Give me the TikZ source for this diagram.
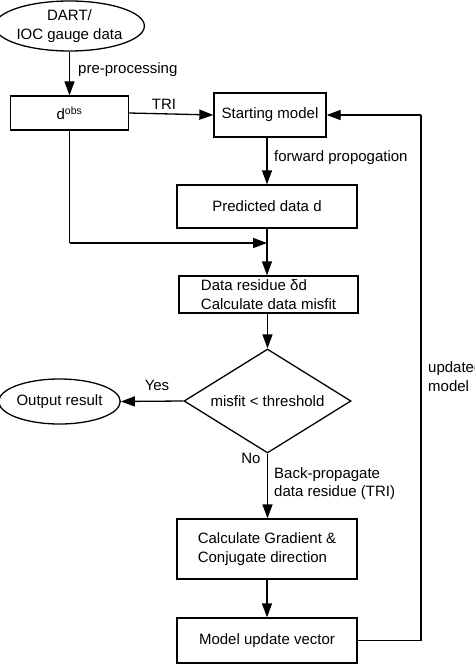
\documentclass[tikz,border=0pt]{standalone}
\usepackage{fontspec}
\setmainfont{Liberation Sans}
\usetikzlibrary{shapes.geometric,arrows.meta}
\begin{document}
\begin{tikzpicture}[x=1pt,y=-1pt,
  every node/.style={font=\fontsize{15}{18.5}\selectfont, inner sep=0pt},
  box/.style={draw, rectangle, line width=1.3pt},
  oval/.style={draw, ellipse, line width=1.3pt},
  line/.style={line width=1.3pt},
  arr/.style={line width=1.3pt, -{Triangle[length=14pt,width=10pt]}}]
\useasboundingbox (0,0) rectangle (474,666);
% nodes
\node[oval, minimum width=127, minimum height=50, align=center] (dart) at (69.5,26) {DART/\\IOC gauge data};
\node[box, minimum width=118, minimum height=34] (dobs) at (69.5,113) {d\textsuperscript{obs}};
\node[box, minimum width=112, minimum height=44] (start) at (270,115) {Starting model};
\node[box, minimum width=180, minimum height=43] (pred) at (267,206.5) {Predicted data d};
\node[box, minimum width=179, minimum height=37, align=left] (resid) at (268.5,294.5) {Data residue δd\\Calculate data misfit};
\node[draw, diamond, aspect=1.6, line width=1.3pt, minimum width=167, minimum height=104] (dec) at (267.5,401) {misfit < threshold};
\node[oval, minimum width=115, minimum height=45] (out) at (59.5,401.5) {Output result};
\node[box, minimum width=180, minimum height=60, align=left] (calc) at (267,549) {Calculate Gradient \&\\Conjugate direction};
\node[box, minimum width=180, minimum height=45] (upd) at (267,640.5) {Model update vector};
\coordinate (j) at (267,243);
\coordinate (rt) at (421,640.5);
\coordinate (rtop) at (421,115);
% labels
\node[anchor=west] (lpre) at (78,70) {pre-processing};
\node (ltri) at (164,104) {TRI};
\node[anchor=west] (lfwd) at (274,158) {forward propogation};
\node (lyes) at (157,385) {Yes};
\node (lno) at (251,458) {No};
\node[anchor=west, align=left] (lback) at (274,483.5) {Back-propagate\\data residue (TRI)};
\node[anchor=west, align=left] (lupd) at (428,376.5) {updated\\model};
% connectors
\draw[arr] (dart.south) -- (dobs.north);
\draw[arr] (dobs.east) -- (start.west);
\draw[arr] (pred.north |- start.south) -- (pred.north);
\draw[line] (dobs.south) -- (dobs.south |- j);
\draw[arr] (dobs.south |- j) -- (j);
\draw[arr] (pred.south) -- (resid.north -| pred.south);
\draw[arr] (resid.south -| dec.north) -- (dec.north);
\draw[arr] (dec.west) -- (out.east);
\draw[arr] (dec.south) -- (calc.north -| dec.south);
\draw[arr] (calc.south) -- (upd.north);
\draw[line] (upd.east) -- (rt) -- (rtop);
\draw[arr] (rtop) -- (start.east);
\end{tikzpicture}
\end{document}
